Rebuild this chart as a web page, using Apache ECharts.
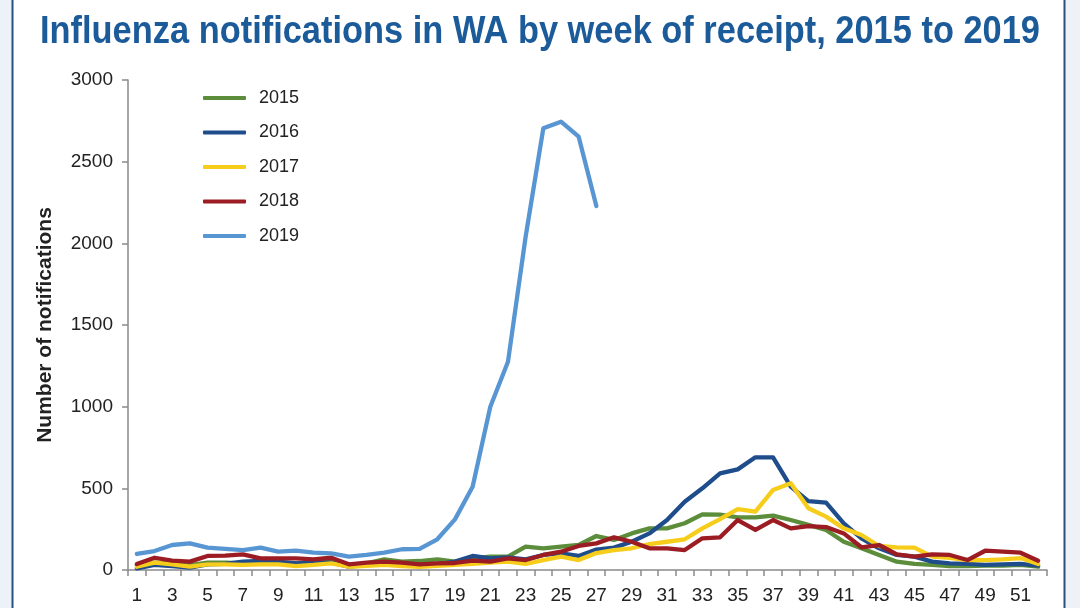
<!DOCTYPE html>
<html>
<head>
<meta charset="utf-8">
<style>
html,body{margin:0;padding:0;background:#fff;}
#chart{width:1080px;height:608px;}
</style>
<script src="https://cdn.jsdelivr.net/npm/echarts@6/dist/echarts.min.js"></script>
</head>
<body>
<div id="chart"></div>
<script>
const titleText = 'Influenza notifications in WA by week of receipt, 2015 to 2019';
const weeks = Array.from({length: 52}, (_, i) => String(i + 1));
const seriesNames = ['2015', '2016', '2017', '2018', '2019'];
const y2015 = [30,45,40,30,45,45,40,50,45,40,45,50,30,40,65,51,55,65,51,71,82,82,143,133,143,153,208,184,224,255,255,286,341,339,322,322,333,306,276,245,173,133,92,51,37,31,24,24,27,27,31,20];
const y2016 = [10,31,24,14,35,37,51,55,51,41,45,45,20,31,40,35,30,35,51,86,71,77,65,92,102,86,125,137,173,224,306,418,500,592,616,690,690,510,422,412,286,194,133,92,82,51,41,37,31,35,37,27];
const y2017 = [20,45,35,20,35,35,31,35,35,24,31,41,20,26,31,24,20,26,31,37,46,51,37,61,82,61,104,122,133,159,173,188,255,312,373,357,490,531,378,327,255,214,147,139,137,82,75,61,61,65,73,37];
const y2018 = [37,75,57,51,86,88,96,71,71,71,65,75,35,45,51,45,35,41,43,57,51,71,61,92,112,147,163,200,173,133,133,122,194,200,306,245,306,255,269,263,224,139,153,96,82,96,92,61,118,112,106,57];
const y2019 = [98,116,153,163,137,129,122,137,112,118,106,102,82,92,106,127,129,188,310,510,1000,1275,2041,2704,2745,2653,2228];
const yTicks = [0, 500, 1000, 1500, 2000, 2500, 3000];
const colors = ['#5b8d3b', '#1f4d8b', '#f7cd1c', '#9c1c23', '#5896d3'];
const dataSets = [y2015, y2016, y2017, y2018, y2019];

const titleFont = 'bold 39px "Liberation Sans", Arial, sans-serif';
const ctx = document.createElement('canvas').getContext('2d');
ctx.font = titleFont;
const titleScale = 1000 / ctx.measureText(titleText).width;

const chart = echarts.init(document.getElementById('chart'), null, {renderer: 'canvas'});
chart.setOption({
  animation: false,
  backgroundColor: '#ffffff',
  graphic: [
    {type: 'rect', shape: {x: 0, y: 0, width: 12, height: 608}, style: {fill: '#edf2f8'}, silent: true},
    {type: 'rect', shape: {x: 1065, y: 0, width: 15, height: 608}, style: {fill: '#eef2f6'}, silent: true},
    {type: 'line', shape: {x1: 12.5, y1: 0, x2: 12.5, y2: 608}, style: {stroke: '#2c4f80', lineWidth: 2}, silent: true},
    {type: 'line', shape: {x1: 1064.5, y1: 0, x2: 1064.5, y2: 608}, style: {stroke: '#2c4f80', lineWidth: 2}, silent: true},
    {type: 'text', x: 540, y: 32, scaleX: titleScale, silent: true,
     style: {text: titleText, font: titleFont, fill: '#1b5b99', textAlign: 'center', textVerticalAlign: 'middle'}}
  ],
  legend: {
    orient: 'vertical',
    left: 198,
    top: 84,
    itemWidth: 43,
    itemHeight: 4,
    itemGap: 16.5,
    icon: 'roundRect',
    data: seriesNames,
    textStyle: {fontFamily: '"Liberation Sans", Arial, sans-serif', fontSize: 18, color: '#222', padding: [0, 0, 0, 8]}
  },
  grid: {left: 128, right: 33, top: 80, bottom: 38, containLabel: false},
  xAxis: {
    type: 'category',
    data: weeks,
    boundaryGap: true,
    axisLine: {lineStyle: {color: '#8a8a8a', width: 1.5}},
    axisTick: {show: true, interval: 0, length: 6, lineStyle: {color: '#8a8a8a', width: 1.5}},
    axisLabel: {interval: 1, fontFamily: '"Liberation Sans", Arial, sans-serif', fontSize: 19, color: '#222', margin: 16},
    splitLine: {show: false}
  },
  yAxis: {
    type: 'value',
    min: yTicks[0],
    max: yTicks[yTicks.length - 1],
    interval: 500,
    name: 'Number of notifications',
    nameLocation: 'middle',
    nameGap: 72,
    nameTextStyle: {fontFamily: '"Liberation Sans", Arial, sans-serif', fontWeight: 'bold', fontSize: 21, color: '#222'},
    axisLine: {show: true, lineStyle: {color: '#8a8a8a', width: 1.5}},
    axisTick: {show: true, length: 6, lineStyle: {color: '#8a8a8a', width: 1.5}},
    axisLabel: {fontFamily: '"Liberation Sans", Arial, sans-serif', fontSize: 19, color: '#222', margin: 15,
                formatter: v => String(v)},
    splitLine: {show: false}
  },
  series: seriesNames.map((name, i) => ({
    name: name,
    type: 'line',
    data: dataSets[i],
    showSymbol: false,
    symbol: 'none',
    color: colors[i],
    lineStyle: {width: 4.3, color: colors[i], join: 'round', cap: 'round'},
    z: 2 + i
  }))
});
</script>
</body>
</html>
